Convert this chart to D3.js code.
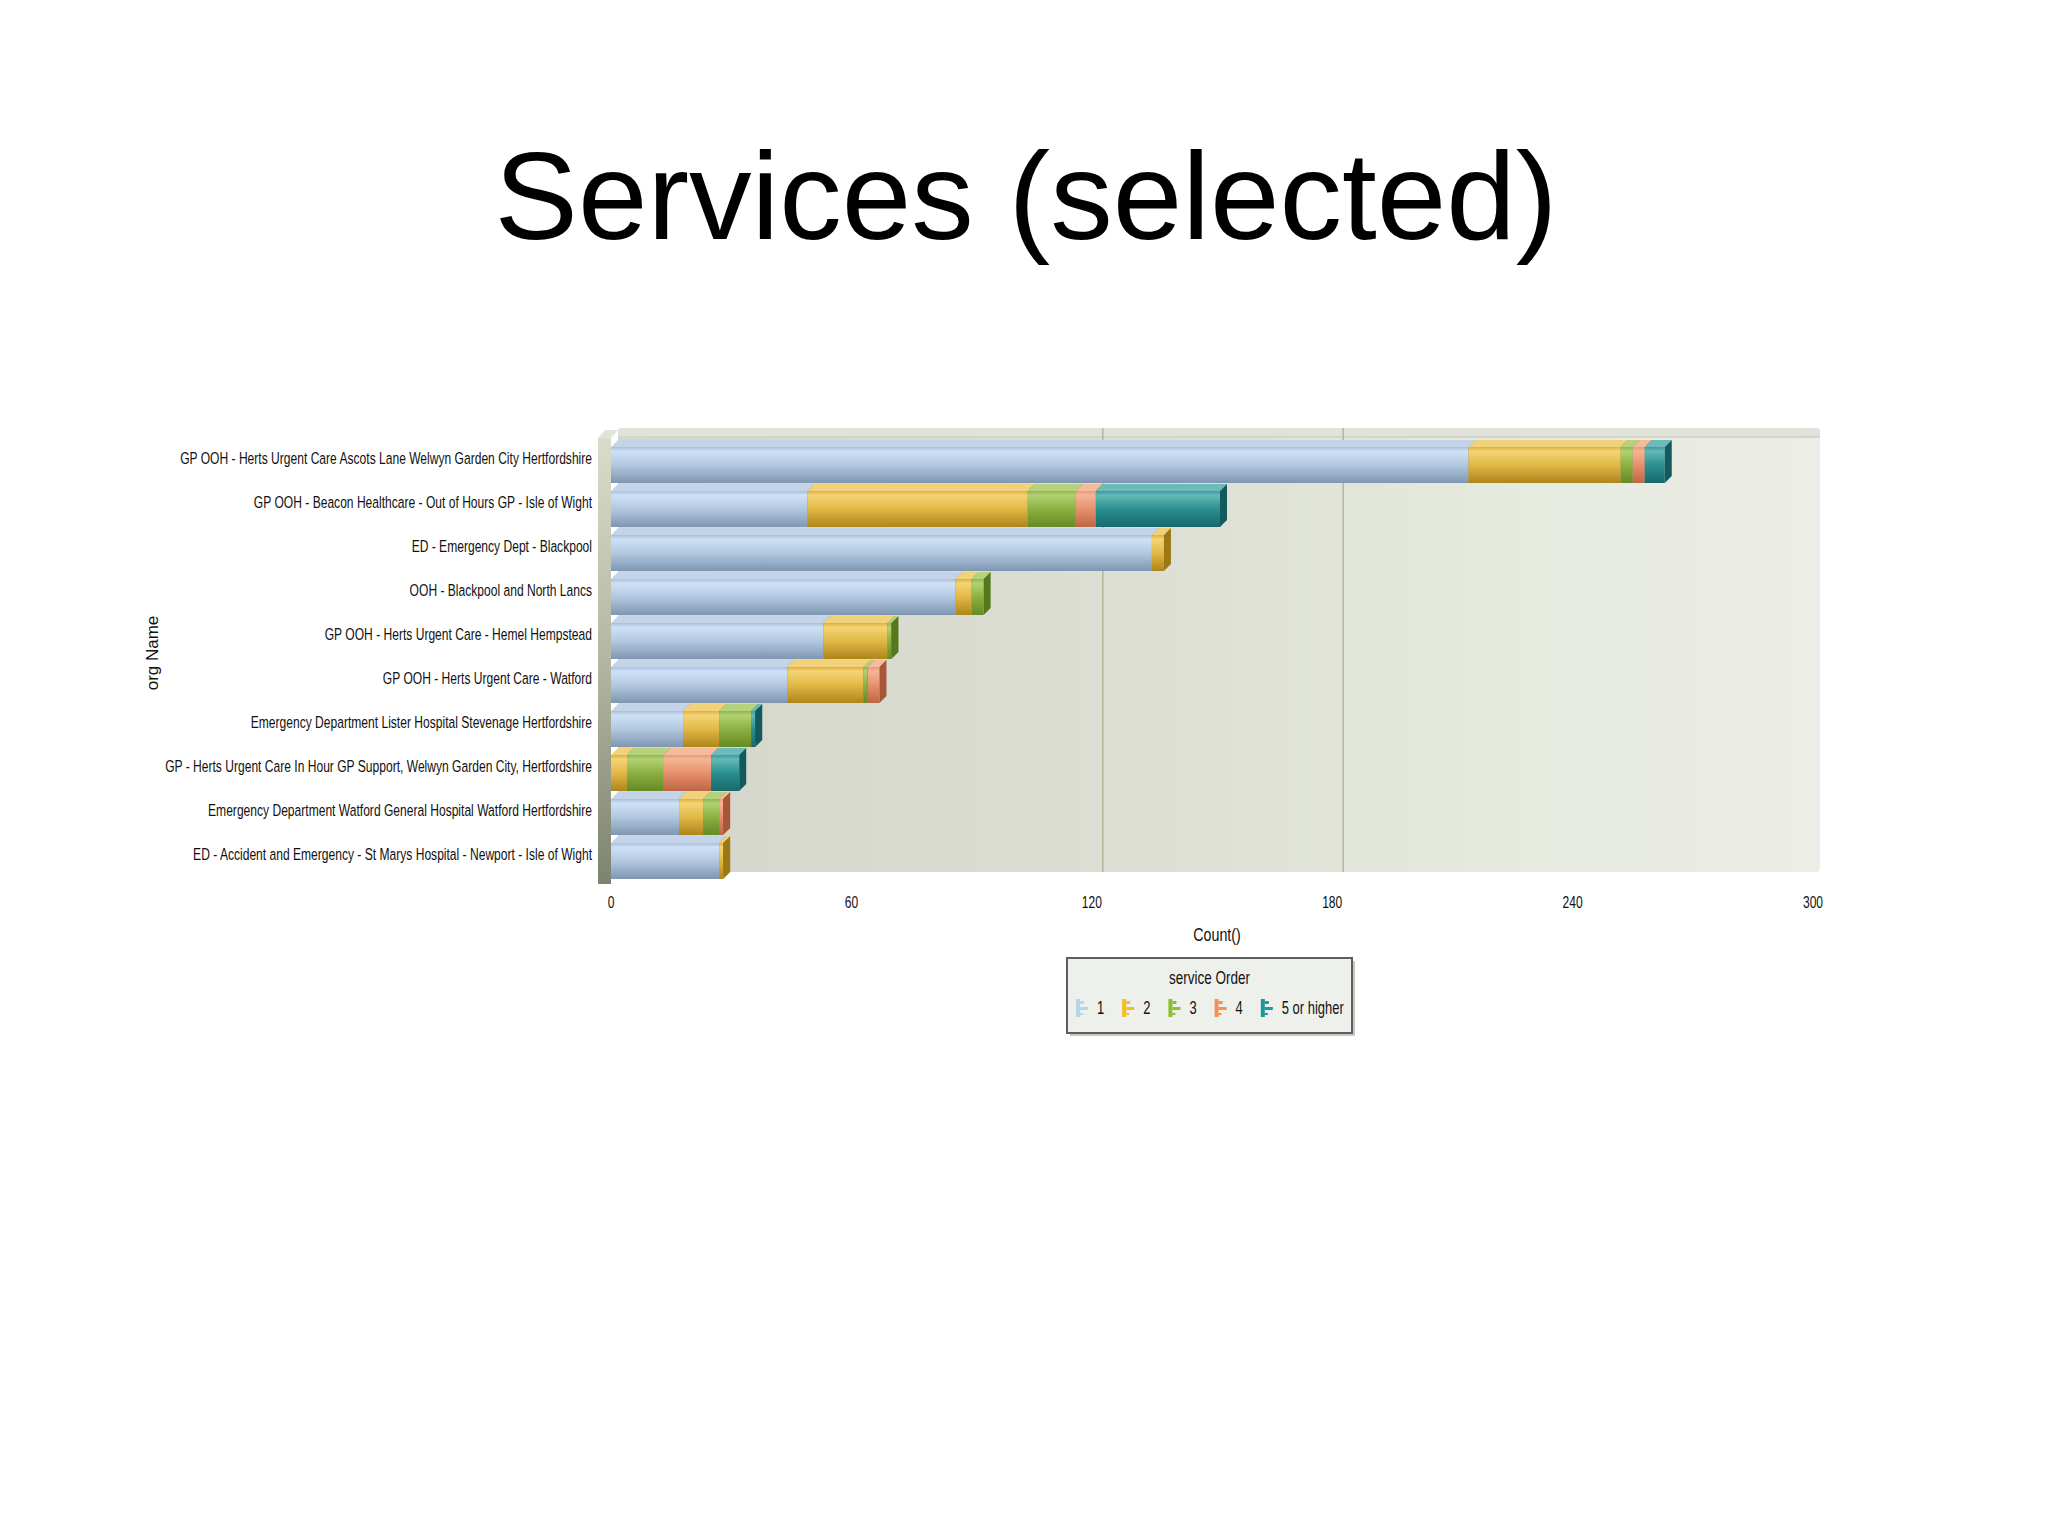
<!DOCTYPE html>
<html>
<head>
<meta charset="utf-8">
<script src="https://cdn.jsdelivr.net/npm/d3@7"></script>
<style>
  html, body { margin: 0; padding: 0; background: #ffffff; }
  svg { display: block; }
  text { font-family: "Liberation Sans", Arial, sans-serif; fill: #111; }
</style>
</head>
<body>
<svg id="chart" width="2048" height="1536"></svg>
<script>
// ---------------- data ----------------
const titleText = "Services (selected)";
const categories = [
  "GP OOH - Herts Urgent Care Ascots Lane Welwyn Garden City Hertfordshire",
  "GP OOH - Beacon Healthcare - Out of Hours GP - Isle of Wight",
  "ED - Emergency Dept - Blackpool",
  "OOH - Blackpool and North Lancs",
  "GP OOH - Herts Urgent Care - Hemel Hempstead",
  "GP OOH - Herts Urgent Care - Watford",
  "Emergency Department Lister Hospital Stevenage Hertfordshire",
  "GP - Herts Urgent Care In Hour GP Support, Welwyn Garden City, Hertfordshire",
  "Emergency Department Watford General Hospital Watford Hertfordshire",
  "ED - Accident and Emergency - St Marys Hospital - Newport - Isle of Wight"
];
const seriesNames = ["1", "2", "3", "4", "5 or higher"];
const order1 = [214, 49, 135, 86, 53, 44, 18, 0, 17, 27];
const order2 = [38, 55, 3, 4, 16, 19, 9, 4, 6, 1];
const order3 = [3, 12, 0, 3, 1, 1, 8, 9, 4, 0];
const order4 = [3, 5, 0, 0, 0, 3, 0, 12, 1, 0];
const order5 = [5, 31, 0, 0, 0, 0, 1, 7, 0, 0];
const xTicks = [0, 60, 120, 180, 240, 300];
const gridValues = [120, 180];
const xTitle = "Count()";
const yTitle = "org Name";
const legendTitle = "service Order";

// ---------------- styles ----------------
const palette = [
  { top: "#c3d4e8", f0: "#a9c0da", f1: "#cfe1f5", f2: "#b2c8e0", f3: "#7f96b2", side: "#7089a6", icon: "#b9d5ee" },
  { top: "#f1d27a", f0: "#dcb040", f1: "#f4d476", f2: "#e2b846", f3: "#ad851a", side: "#9c7814", icon: "#f2c01e" },
  { top: "#b6d27c", f0: "#90b44c", f1: "#b2d272", f2: "#8cb042", f3: "#668a24", side: "#56781c", icon: "#8cc030" },
  { top: "#f5bc9c", f0: "#e69a78", f1: "#f5b696", f2: "#e8906c", f3: "#bd6646", side: "#a85636", icon: "#f29058" },
  { top: "#6cbaba", f0: "#3c9c9c", f1: "#64b8b8", f2: "#2a9090", f3: "#18686c", side: "#135a5e", icon: "#1a9a98" }
];
const condense = 0.71;
const depthX = 7, depthY = 7;

const svg = d3.select("#chart");
const defs = svg.append("defs");

// ---------------- title ----------------
svg.append("text")
  .attr("x", 1026).attr("y", 239)
  .attr("text-anchor", "middle")
  .style("font-size", "125px")
  .style("fill", "#000")
  .text(titleText);

// ---------------- scales ----------------
const x = d3.scaleLinear().domain([0, 300]).range([611, 1813]);
const y = d3.scaleBand().domain(categories).range([440, 880]).padding(0);

const table = categories.map((c, i) => ({
  cat: c, "1": order1[i], "2": order2[i], "3": order3[i], "4": order4[i], "5 or higher": order5[i]
}));
const stacked = d3.stack().keys(seriesNames)(table);

// helper for condensed text
function ctext(g, px, py, str, size, anchor, sx, weight) {
  const grp = g.append("g").attr("transform", `translate(${px},${py}) scale(${sx},1)`);
  return grp.append("text")
    .attr("text-anchor", anchor)
    .attr("dominant-baseline", "central")
    .style("font-size", size + "px")
    .style("font-weight", weight || "normal")
    .text(str);
}

// ---------------- plot background ----------------
const bgGrad = defs.append("linearGradient").attr("id", "bgGrad")
  .attr("x1", "0").attr("x2", "1").attr("y1", "0").attr("y2", "0");
bgGrad.append("stop").attr("offset", "0").attr("stop-color", "#d4d6cb");
bgGrad.append("stop").attr("offset", "0.45").attr("stop-color", "#dddfd4");
bgGrad.append("stop").attr("offset", "0.75").attr("stop-color", "#e6eadf");
bgGrad.append("stop").attr("offset", "1").attr("stop-color", "#ecede6");

const x0 = x.range()[0], x1 = x.range()[1];
const yTop = y.range()[0], yBot = y.range()[1];
const wallW = x1 - x0;

svg.append("rect")
  .attr("x", x0 + depthX).attr("y", yTop - 12)
  .attr("width", wallW).attr("height", yBot - yTop + 4)
  .attr("rx", 4)
  .attr("fill", "url(#bgGrad)");

// top band (ceiling edge)
svg.append("rect")
  .attr("x", x0 + depthX).attr("y", yTop - 12)
  .attr("width", wallW).attr("height", 10)
  .attr("rx", 3)
  .attr("fill", "#e1e2da");
svg.append("line")
  .attr("x1", x0 + depthX).attr("x2", x0 + depthX + wallW)
  .attr("y1", yTop - 3).attr("y2", yTop - 3)
  .attr("stroke", "#cfd1c5").attr("stroke-width", 1.5);

// gridlines on back wall
svg.selectAll("line.grid").data(gridValues).join("line")
  .attr("class", "grid")
  .attr("x1", d => x(d) + 11).attr("x2", d => x(d) + 11)
  .attr("y1", yTop - 12).attr("y2", yBot - 8)
  .attr("stroke", "#b3b79a").attr("stroke-width", 1.5);

// left slab (axis wall)
const slabGrad = defs.append("linearGradient").attr("id", "slabGrad")
  .attr("x1", "0").attr("x2", "0").attr("y1", "0").attr("y2", "1");
slabGrad.append("stop").attr("offset", "0").attr("stop-color", "#d9dccb");
slabGrad.append("stop").attr("offset", "0.5").attr("stop-color", "#b2b7a1");
slabGrad.append("stop").attr("offset", "1").attr("stop-color", "#7c836e");
svg.append("rect")
  .attr("x", x0 - 13).attr("y", yTop - 2)
  .attr("width", 13).attr("height", yBot - yTop + 6)
  .attr("fill", "url(#slabGrad)");
svg.append("path")
  .attr("d", `M${x0 - 13},${yTop - 2} L${x0 - 6},${yTop - 10} L${x0 + depthX},${yTop - 10} L${x0},${yTop - 2} Z`)
  .attr("fill", "#e3e4d9");

// ---------------- bars ----------------
palette.forEach((p, i) => {
  const g = defs.append("linearGradient").attr("id", "front" + i)
    .attr("x1", "0").attr("x2", "0").attr("y1", "0").attr("y2", "1");
  g.append("stop").attr("offset", "0").attr("stop-color", p.f0);
  g.append("stop").attr("offset", "0.12").attr("stop-color", p.f1);
  g.append("stop").attr("offset", "0.5").attr("stop-color", p.f2);
  g.append("stop").attr("offset", "1").attr("stop-color", p.f3);
});

const bw = y.bandwidth();
const layers = svg.append("g").attr("class", "bars");
stacked.forEach((layer, si) => {
  const p = palette[si];
  const segs = layer.map((d, i) => ({ a: d[0], b: d[1], cat: categories[i] })).filter(d => d.b - d.a > 0);
  const lg = layers.append("g");
  lg.selectAll("path.top").data(segs).join("path")
    .attr("class", "top")
    .attr("d", d => {
      const xa = x(d.a), xb = x(d.b), yy = y(d.cat);
      return `M${xa},${yy + depthY} L${xa + depthX},${yy} L${xb + depthX},${yy} L${xb},${yy + depthY} Z`;
    })
    .attr("fill", p.top);
  lg.selectAll("rect.front").data(segs).join("rect")
    .attr("class", "front")
    .attr("x", d => x(d.a))
    .attr("y", d => y(d.cat) + depthY)
    .attr("width", d => x(d.b) - x(d.a))
    .attr("height", bw - depthY - 1)
    .attr("fill", `url(#front${si})`);
  lg.selectAll("path.side").data(segs).join("path")
    .attr("class", "side")
    .attr("d", d => {
      const xb = x(d.b), yy = y(d.cat);
      return `M${xb},${yy + depthY} L${xb + depthX},${yy} L${xb + depthX},${yy + bw - depthY - 1} L${xb},${yy + bw - 1} Z`;
    })
    .attr("fill", p.side);
});

// ---------------- axes labels ----------------
const labels = svg.append("g");
categories.forEach(c => {
  ctext(labels, 592, y(c) + 18, c, 17, "end", condense);
});
xTicks.forEach(t => {
  ctext(labels, x(t), 902, String(t), 17, "middle", condense);
});
ctext(labels, (x0 + x1) / 2 + 5, 935, xTitle, 19, "middle", 0.75);

svg.append("text")
  .attr("transform", `translate(152, 653) rotate(-90)`)
  .attr("text-anchor", "middle")
  .attr("dominant-baseline", "central")
  .style("font-size", "17px")
  .text(yTitle);

// ---------------- legend ----------------
const lgX = 1067, lgY = 958, lgW = 285, lgH = 75;
svg.append("rect")
  .attr("x", lgX + 3).attr("y", lgY + 3).attr("width", lgW).attr("height", lgH)
  .attr("fill", "#c8c8c8");
svg.append("rect")
  .attr("x", lgX).attr("y", lgY).attr("width", lgW).attr("height", lgH)
  .attr("fill", "#eef0ec").attr("stroke", "#5e5e5e").attr("stroke-width", 2);
ctext(svg, lgX + lgW / 2, lgY + 20, legendTitle, 18, "middle", 0.75);

let cx = lgX + 9;
seriesNames.forEach((s, i) => {
  const ig = svg.append("g").attr("transform", `translate(${cx},${lgY + 50})`);
  const col = palette[i].icon;
  ig.append("rect").attr("x", 0).attr("y", -9).attr("width", 4).attr("height", 18).attr("fill", col);
  ig.append("rect").attr("x", 4).attr("y", -7).attr("width", 4).attr("height", 3).attr("fill", col);
  ig.append("rect").attr("x", 4).attr("y", -1).attr("width", 8).attr("height", 3).attr("fill", col);
  ig.append("rect").attr("x", 4).attr("y", 5).attr("width", 3).attr("height", 2).attr("fill", col);
  const t = ctext(svg, cx + 21, lgY + 50, s, 18, "start", 0.72);
  const w = t.node().getComputedTextLength() * 0.72;
  cx += 21 + w + 18;
});
</script>
</body>
</html>
